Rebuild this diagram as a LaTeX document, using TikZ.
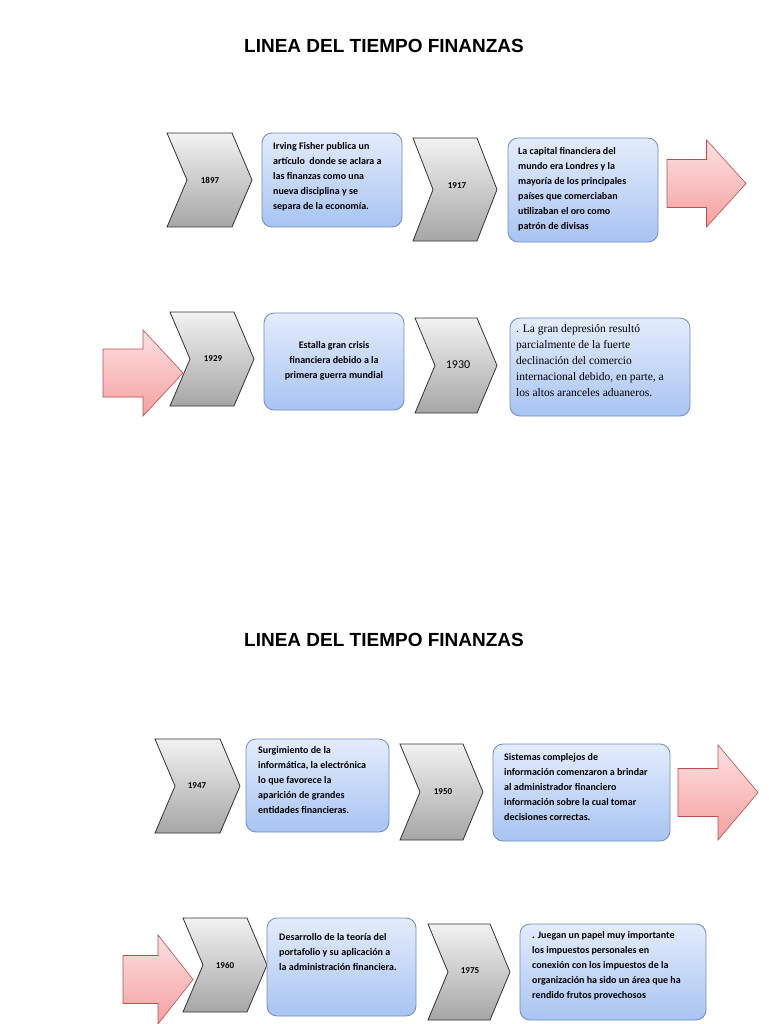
\documentclass[tikz,border=0pt]{standalone}
\usepackage{fontspec}
\setmainfont{Carlito}
\newfontfamily\titlefont{Liberation Sans}
\newfontfamily\serifb{Liberation Serif}
\definecolor{btop}{RGB}{228,236,252}
\definecolor{bbot}{RGB}{168,196,242}
\definecolor{bdr}{RGB}{110,140,190}
\definecolor{ptop}{RGB}{253,225,225}
\definecolor{pbot}{RGB}{245,160,160}
\begin{document}
\begin{tikzpicture}[x=1pt,y=-1pt,
  chev/.style={draw=black!80,line width=0.8pt,top color=black!5,bottom color=black!35},
  tbox/.style={draw=bdr,line width=0.8pt,rounded corners=10pt,top color=btop,bottom color=bbot},
  parrow/.style={draw=red!65!black!70,line width=0.6pt,top color=ptop,bottom color=pbot},
  ttl/.style={font=\titlefont\bfseries\fontsize{19}{22}\selectfont},
  yr/.style={font=\bfseries\fontsize{9}{10}\selectfont},
  txt/.style={font=\bfseries\fontsize{10}{15}\selectfont,align=left,anchor=north west,inner sep=0pt}]
\useasboundingbox (0,0) rectangle (768,1024);
\fill[white] (0,0) rectangle (768,1024);
\newcommand\chevron[5]{%
  \pgfmathsetmacro\cy{(#3+#4)/2}%
  \draw[chev] (#1,#3) -- ({#2-20},#3) -- (#2,\cy) -- ({#2-20},#4) -- (#1,#4) -- ({#1+20},\cy) -- cycle;
  \coordinate (#5) at ({(#1+#2)/2+2},\cy);}
\newcommand\rarrow[5]{%
  \pgfmathsetmacro\cy{(#3+#4)/2}%
  \draw[parrow] (#1,{\cy-24}) -- ({(#1+#2)/2},{\cy-24}) -- ({(#1+#2)/2},#3) -- (#2,\cy) -- ({(#1+#2)/2},#4) -- ({(#1+#2)/2},{\cy+24}) -- (#1,{\cy+24}) -- cycle;
  \coordinate (#5) at ({(#1+#2)/2},\cy);}
\node[ttl] (t1) at (384,46) {LINEA DEL TIEMPO FINANZAS};
\node[ttl] (t2) at (384,640) {LINEA DEL TIEMPO FINANZAS};
% row 1
\chevron{167}{252}{133}{227}{c1}
\node[yr] at (210,180) {1897};
\draw[tbox] (262,133) rectangle (402,227);
\node[txt] (a) at (273,142) {Irving Fisher publica un\\artículo\ \ donde se aclara a\\las finanzas como una\\nueva disciplina y se\\separa de la economía.};
\chevron{413}{497}{138}{241}{c2}
\node[yr] at (457,186) {1917};
\draw[tbox] (508,138) rectangle (658,242);
\node[txt] (b) at (518,147) {La capital financiera del\\mundo era Londres y la\\mayoría de los principales\\países que comerciaban\\utilizaban el oro como\\patrón de divisas};
\rarrow{667}{746}{140}{227}{p1}
% row 2
\rarrow{103}{183}{330}{416}{p2}
\chevron{170}{254}{312}{406}{c3}
\node[yr] at (213,359) {1929};
\draw[tbox] (264,313) rectangle (404,410);
\node[font=\bfseries\fontsize{10}{15}\selectfont,align=center] (c) at (334,361) {Estalla gran crisis\\financiera debido a la\\primera guerra mundial};
\chevron{415}{497}{318}{413}{c4}
\node[font=\fontsize{12}{14}\selectfont] at (458,365) {1930};
\draw[tbox] (510,318) rectangle (690,416);
\node[txt,font=\serifb\fontsize{11.5}{16}\selectfont] (d) at (516,324) {. La gran depresión resultó\\parcialmente de la fuerte\\declinación del comercio\\internacional debido, en parte, a\\los altos aranceles aduaneros.};
% row 3
\chevron{155}{240}{739}{833}{c5}
\node[yr] at (197,786) {1947};
\draw[tbox] (246,739) rectangle (389,832);
\node[txt] (e) at (258,746) {Surgimiento de la\\informática, la electrónica\\lo que favorece la\\aparición de grandes\\entidades financieras.};
\chevron{400}{483}{744}{840}{c6}
\node[yr] at (443,792) {1950};
\draw[tbox] (493,744) rectangle (670,841);
\node[txt] (f) at (504,753) {Sistemas complejos de\\información comenzaron a brindar\\al administrador financiero\\información sobre la cual tomar\\decisiones correctas.};
\rarrow{678}{758}{745}{840}{p3}
% row 4
\rarrow{123}{193}{935}{1024}{p4}
\chevron{183}{267}{918}{1012}{c7}
\node[yr] at (225,965) {1960};
\draw[tbox] (267,918) rectangle (416,1016);
\node[txt] (g) at (279,933) {Desarrollo de la teoría del\\portafolio y su aplicación a\\la administración financiera.};
\chevron{428}{510}{924}{1020}{c8}
\node[yr] at (470,971) {1975};
\draw[tbox] (520,924) rectangle (706,1020);
\node[txt] (h) at (532,931) {. Juegan un papel muy importante\\los impuestos personales en\\conexión con los impuestos de la\\organización ha sido un área que ha\\rendido frutos provechosos};
\end{tikzpicture}
\end{document}
